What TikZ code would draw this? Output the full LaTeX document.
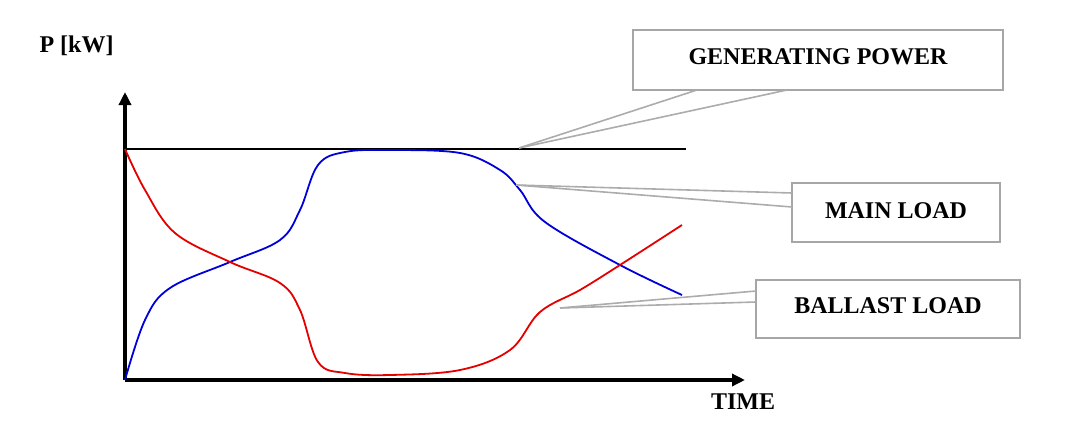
\documentclass[tikz,border=0pt]{standalone}
\usepackage{fontspec}
\setmainfont{Liberation Serif}
\usetikzlibrary{arrows.meta}
\begin{document}
\begin{tikzpicture}[x=1pt,y=-1pt,
  lbl/.style={font=\bfseries\fontsize{24}{26}\selectfont},
  box/.style={draw=gray!70,line width=1.5pt,fill=white},
  lead/.style={draw=gray!65,line width=1.6pt},
  axis/.style={line width=3.6pt,-{Triangle[length=13pt,width=12pt]}}]
\useasboundingbox (0,0) rectangle (1085,439);
% axes
\coordinate (O) at (125,380);
\coordinate (ytop) at (125,92);
\coordinate (xend) at (745,380);
\draw[axis] (O) -- (ytop);
\draw[axis] (O) -- (xend);
\node[lbl,anchor=west] (plbl) at (36,46) {P [kW]};
\node[lbl] (tlbl) at (743,402) {TIME};
% generating power line
\coordinate (g0) at (125,149);
\coordinate (g1) at (686,149);
\draw[line width=2.6pt] (g0) -- (g1);
% curves
\draw[blue!85!black,line width=1.8pt] plot[smooth,tension=0.6] coordinates
 {(125,380) (145,320) (170,288) (230,262) (280,240) (300,210) (318,165) (345,152) (390,150) (460,153) (500,170) (520,190) (545,222) (620,265) (682,295)};
\draw[red!90!black,line width=1.8pt] plot[smooth,tension=0.6] coordinates
 {(125,149) (145,190) (175,233) (230,262) (280,283) (300,310) (318,362) (345,373) (390,375) (460,370) (510,350) (540,312) (580,290) (620,265) (682,225)};
% boxes
\draw[box] (633,30) rectangle (1003,90);
\node[lbl] (gp) at (818,57) {GENERATING POWER};
\draw[box] (792,183) rectangle (1000,242);
\node[lbl] (ml) at (896,211) {MAIN LOAD};
\draw[box] (756,280) rectangle (1020,338);
\node[lbl] (bl) at (888,306) {BALLAST LOAD};
% leaders
\coordinate (pg) at (519,148);
\coordinate (pm) at (516,185);
\coordinate (pb) at (560,308);
\coordinate (gpa) at (697,90);
\coordinate (gpb) at (787,90);
\coordinate (mla) at (792,193);
\coordinate (mlb) at (792,207);
\coordinate (bla) at (756,291);
\coordinate (blb) at (756,302);
\draw[lead] (pg) -- (gpa);
\draw[lead] (pg) -- (gpb);
\draw[lead] (pm) -- (mla);
\draw[lead] (pm) -- (mlb);
\draw[lead] (pb) -- (bla);
\draw[lead] (pb) -- (blb);
\end{tikzpicture}
\end{document}
